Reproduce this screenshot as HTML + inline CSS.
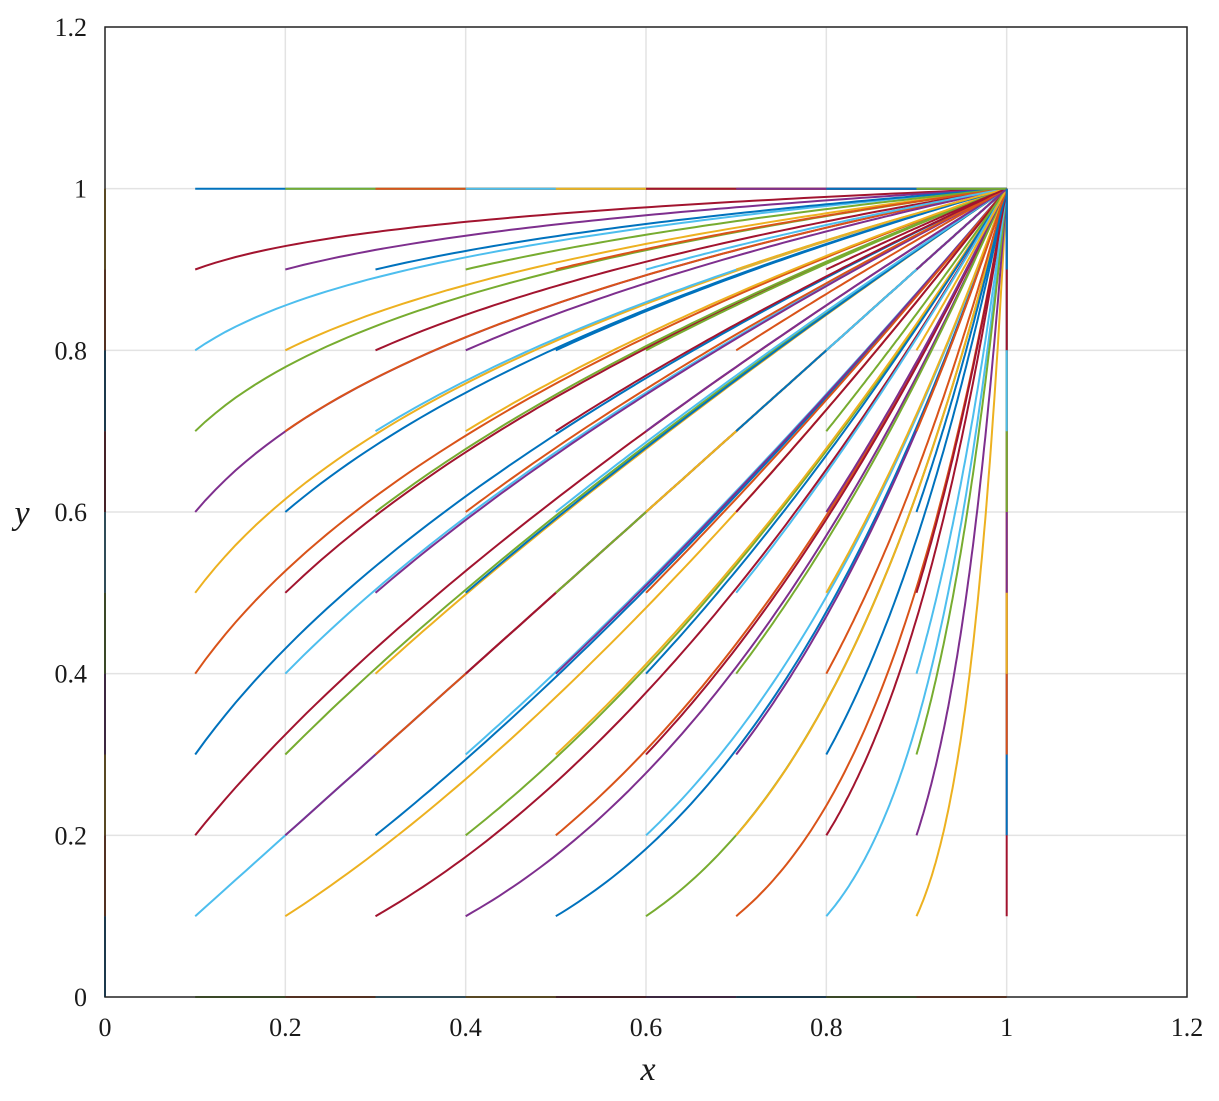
<!DOCTYPE html>
<html><head><meta charset="utf-8"><style>
body{margin:0;background:#fff;}
svg text{font-family:"Liberation Serif",serif;fill:#1a1a1a;}
</style></head><body>
<svg id="chart" width="1219" height="1096">
<rect x="0" y="0" width="1219" height="1096" fill="#fff"/>
<g id="grid"></g>
<g id="curves"></g>
<rect x="105" y="27" width="1082" height="970" fill="none" stroke="#262626" stroke-width="1.5"/>
<g id="ticks"></g>
<text x="22" y="524" font-size="34" font-style="italic" text-anchor="middle">y</text>
<text x="648" y="1080" font-size="34" font-style="italic" text-anchor="middle">x</text>
</svg>
<script>
const startX=[0,0.1,0.2,0.3,0.4,0.5,0.6,0.7,0.8,0.9,1];
const startY=[0,0.1,0.2,0.3,0.4,0.5,0.6,0.7,0.8,0.9,1];
const xTicks=[0,0.2,0.4,0.6,0.8,1,1.2];
const yTicks=[0,0.2,0.4,0.6,0.8,1,1.2];
const colors=["#0072BD","#D95319","#EDB120","#7E2F8E","#77AC30","#4DBEEE","#A2142F"];
const X0=105,X1=1187,Y0=997,Y1=27;
const sx=v=>X0+(X1-X0)*v/1.2;
const sy=v=>Y0-(Y0-Y1)*v/1.2;
const NS="http://www.w3.org/2000/svg";
const grid=document.getElementById('grid'),ticks=document.getElementById('ticks'),cg=document.getElementById('curves');
xTicks.forEach(t=>{
 const l=document.createElementNS(NS,'line');
 l.setAttribute('x1',sx(t));l.setAttribute('x2',sx(t));l.setAttribute('y1',Y0);l.setAttribute('y2',Y1);
 l.setAttribute('stroke','#e3e3e3');l.setAttribute('stroke-width','1.5');
 
 
 grid.appendChild(l);
 const tx=document.createElementNS(NS,'text');
 tx.setAttribute('x',sx(t));tx.setAttribute('y',1036);tx.setAttribute('font-size','26');tx.setAttribute('text-anchor','middle');
 tx.textContent=String(t);
 
 
 ticks.appendChild(tx);
});
yTicks.forEach(t=>{
 const l=document.createElementNS(NS,'line');
 l.setAttribute('x1',X0);l.setAttribute('x2',X1);l.setAttribute('y1',sy(t));l.setAttribute('y2',sy(t));
 l.setAttribute('stroke','#e3e3e3');l.setAttribute('stroke-width','1.5');
 
 
 grid.appendChild(l);
 const tx=document.createElementNS(NS,'text');
 tx.setAttribute('x',87);tx.setAttribute('y',sy(t)+9);tx.setAttribute('font-size','26');tx.setAttribute('text-anchor','end');
 tx.textContent=String(t);
 
 
 ticks.appendChild(tx);
});
let ci=0;
startX.forEach(x0=>{startY.forEach(y0=>{
 let pts=[];
 if(x0===1&&y0===1)return;
 if(x0===0){pts=[[0,y0],[0,Math.min(1,y0+0.1)]];}
 else if(y0===0){pts=[[x0,0],[Math.min(1,x0+0.1),0]];}
 else if(y0===1){pts=[[x0,1],[1,1]];}
 else if(x0===1){pts=[[1,y0],[1,1]];}
 else{
  const a=Math.log(y0)/Math.log(x0);
  for(let i=0;i<=80;i++){const x=x0+(1-x0)*i/80;pts.push([x,Math.pow(x,a)]);}
 }
 const p=document.createElementNS(NS,'polyline');
 p.setAttribute('points',pts.map(q=>sx(q[0]).toFixed(1)+','+sy(q[1]).toFixed(1)).join(' '));
 p.setAttribute('fill','none');p.setAttribute('stroke',colors[ci%colors.length]);p.setAttribute('stroke-width','2');
 
 
 cg.appendChild(p);ci++;
});});
</script>
</body></html>
